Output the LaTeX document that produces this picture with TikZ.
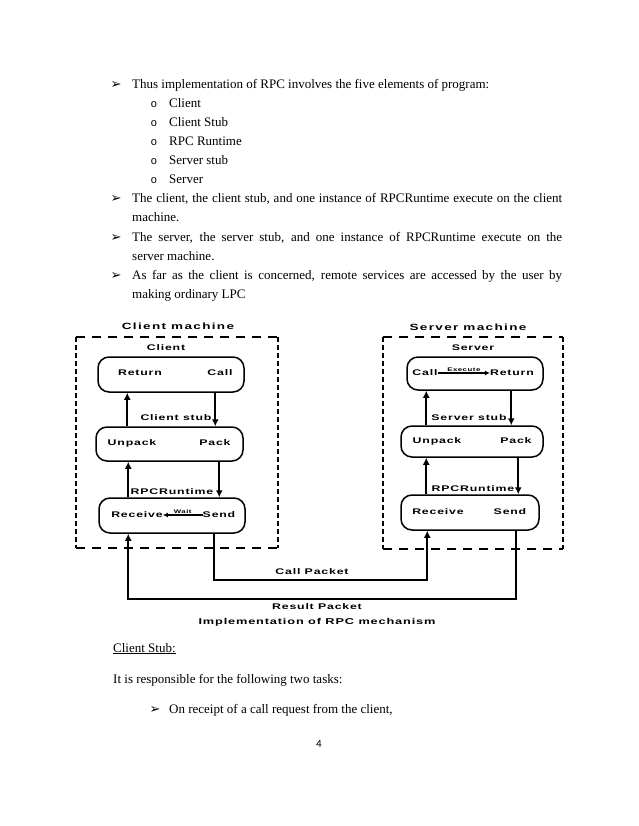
\documentclass[tikz,border=0pt]{standalone}
\usepackage{fontspec}
\setmainfont{Liberation Serif}
\newfontfamily\dfont[FakeStretch=1.5,LetterSpace=10]{Liberation Sans Bold}
\newfontfamily\mfont[FakeStretch=1.5,LetterSpace=15]{Liberation Sans Bold}
\newfontfamily\symfont{DejaVu Sans}
\newfontfamily\bulfont{Liberation Mono}
\newfontfamily\numfont{Carlito}
\usetikzlibrary{arrows.meta,calc}
\tikzset{
  txt/.style={inner sep=0pt,anchor=base west,font=\fontsize{13}{15}\selectfont},
  arrbul/.style={inner sep=0pt,anchor=base,font=\symfont\fontsize{13}{15}\selectfont},
  obul/.style={inner sep=0pt,anchor=base,font=\bulfont\fontsize{11}{12}\selectfont},
  dlab/.style={inner sep=0pt,font=\dfont\fontsize{8.2}{9}\selectfont},
  mlab/.style={inner sep=0pt,font=\mfont\fontsize{9}{10}\selectfont},
  caplab/.style={inner sep=0pt,font=\dfont\fontsize{8.5}{10}\selectfont},
  slab/.style={inner sep=0pt,font=\dfont\fontsize{5.2}{6}\selectfont},
  rbox/.style={draw,rounded corners=11pt,line width=1.5pt,inner sep=0pt},
  arr/.style={line width=1.6pt,-{Latex[length=7pt,width=7pt]}},
  smallarr/.style={line width=1.2pt,-{Latex[length=5pt,width=5pt]}},
  longdash/.style={line width=1.6pt,dash pattern=on 9pt off 7pt},
  shortdash/.style={line width=1.8pt,dash pattern=on 5pt off 3pt},
}
\begin{document}
\begin{tikzpicture}[x=1pt,y=-1pt]
\useasboundingbox[fill=white] (0,0) rectangle (638,826);
% ---------- top text ----------
\node[arrbul] (b1) at (116,89) {➢};
\node[txt] (t1) at (132,89) {Thus implementation of RPC involves the five elements of program:};
\node[obul] (o1) at (154,108) {o};
\node[txt] (l1) at (169,108) {Client};
\node[obul] (o2) at (154,127) {o};
\node[txt] (l2) at (169,127) {Client Stub};
\node[obul] (o3) at (154,146) {o};
\node[txt] (l3) at (169,146) {RPC Runtime};
\node[obul] (o4) at (154,165) {o};
\node[txt] (l4) at (169,165) {Server stub};
\node[obul] (o5) at (154,184) {o};
\node[txt] (l5) at (169,184) {Server};
\node[arrbul] (b2) at (116,203) {➢};
\node[txt] (t2) at (132,203) {\makebox[430pt][s]{The client, the client stub, and one instance of RPCRuntime execute on the client}};
\node[txt] (t2b) at (132,222) {machine.};
\node[arrbul] (b3) at (116,241) {➢};
\node[txt] (t3) at (132,241) {\makebox[430pt][s]{The server, the server stub, and one instance of RPCRuntime execute on the}};
\node[txt] (t3b) at (132,260) {server machine.};
\node[arrbul] (b4) at (116,279) {➢};
\node[txt] (t4) at (132,279) {\makebox[430pt][s]{As far as the client is concerned, remote services are accessed by the user by}};
\node[txt] (t4b) at (132,298) {making ordinary LPC};
% ---------- machines ----------
\node[minimum width=202pt,minimum height=211pt,inner sep=0pt] (cm) at (177,442.5) {};
\node[minimum width=180pt,minimum height=212pt,inner sep=0pt] (sm) at (473,443) {};
\draw[longdash] (cm.north west) -- (cm.north east);
\draw[longdash] (cm.south west) -- (cm.south east);
\draw[shortdash] (cm.north west) -- (cm.south west);
\draw[shortdash] (cm.north east) -- (cm.south east);
\draw[longdash] (sm.north west) -- (sm.north east);
\draw[longdash] (sm.south west) -- (sm.south east);
\draw[shortdash] (sm.north west) -- (sm.south west);
\draw[shortdash] (sm.north east) -- (sm.south east);
\node[mlab] (cmlab) at (178,326) {Client machine};
\node[mlab] (smlab) at (468,327) {Server machine};
% ---------- client boxes ----------
\node[rbox,minimum width=146pt,minimum height=35pt] (cli) at (171,374.5) {};
\node[rbox,minimum width=147pt,minimum height=34pt] (cstub) at (169.5,444) {};
\node[rbox,minimum width=146pt,minimum height=35pt] (crun) at (172,515.5) {};
\node[dlab] (clilab) at (166,348) {Client};
\node[dlab] (cstublab) at (176,418) {Client stub};
\node[dlab] (crunlab) at (172,492) {RPCRuntime};
\node[dlab] (cret) at (140,373) {Return};
\node[dlab] (ccall) at (220,373) {Call};
\node[dlab] (cunp) at (132,443) {Unpack};
\node[dlab] (cpack) at (215,443) {Pack};
\node[dlab] (crecv) at (137,515) {Receive};
\node[dlab] (csend) at (219,515) {Send};
\draw[smallarr] (csend.west) -- node[slab,above=1pt] (wait) {Wait} (crecv.east);
% ---------- server boxes ----------
\node[rbox,minimum width=136pt,minimum height=33pt] (srv) at (475,373.5) {};
\node[rbox,minimum width=142pt,minimum height=31pt] (sstub) at (472,441.5) {};
\node[rbox,minimum width=138pt,minimum height=35pt] (srun) at (470,512.5) {};
\node[dlab] (srvlab) at (473,348) {Server};
\node[dlab] (sstublab) at (469,418) {Server stub};
\node[dlab] (srunlab) at (473,489) {RPCRuntime};
\node[dlab] (scall) at (425,373) {Call};
\node[dlab] (sret) at (512,373) {Return};
\node[dlab] (sunp) at (437,441) {Unpack};
\node[dlab] (spack) at (516,441) {Pack};
\node[dlab] (srecv) at (438,512) {Receive};
\node[dlab] (ssend) at (510,512) {Send};
\draw[smallarr] (scall.east) -- node[slab,above=1pt] (exec) {Execute} (sret.west);
% ---------- client arrows ----------
\draw[arr] ([xshift=32pt]cstub.north west) -- ([xshift=32pt]cstub.north west |- cli.south);
\draw[arr] ([xshift=118pt]cli.south west) -- ([xshift=118pt]cli.south west |- cstub.north);
\draw[arr] ([xshift=30pt]crun.north west) -- ([xshift=30pt]crun.north west |- cstub.south);
\draw[arr] ([xshift=124pt]cstub.south west) -- ([xshift=124pt]cstub.south west |- crun.north);
% ---------- server arrows ----------
\draw[arr] ([xshift=26pt]sstub.north west) -- ([xshift=26pt]sstub.north west |- srv.south);
\draw[arr] ([xshift=105pt]srv.south west) -- ([xshift=105pt]srv.south west |- sstub.north);
\draw[arr] ([xshift=26pt]srun.north west) -- ([xshift=26pt]srun.north west |- sstub.south);
\draw[arr] ([xshift=118pt]sstub.south west) -- ([xshift=118pt]sstub.south west |- srun.north);
% ---------- packets ----------
\draw[arr] ([xshift=116pt]crun.south west) -- ++(0,46) -| ([xshift=27pt]srun.south west);
\draw[arr] ([xshift=116pt]srun.south west) -- ++(0,68) -| ([xshift=30pt]crun.south west);
\node[dlab] (cpk) at (312,572) {Call Packet};
\node[dlab] (rpk) at (317,607) {Result Packet};
\node[caplab] (cap) at (317,622) {Implementation of RPC mechanism};
% ---------- bottom text ----------
\node[txt] (cs) at (113,652) {\underline{Client Stub:}};
\node[txt] (resp) at (113,683) {It is responsible for the following two tasks:};
\node[arrbul] (b5) at (155,713) {➢};
\node[txt] (rec) at (169,713) {On receipt of a call request from the client,};
\node[inner sep=0pt,anchor=base,font=\numfont\fontsize{11}{12}\selectfont] (pg) at (319,747) {4};
\end{tikzpicture}
\end{document}
